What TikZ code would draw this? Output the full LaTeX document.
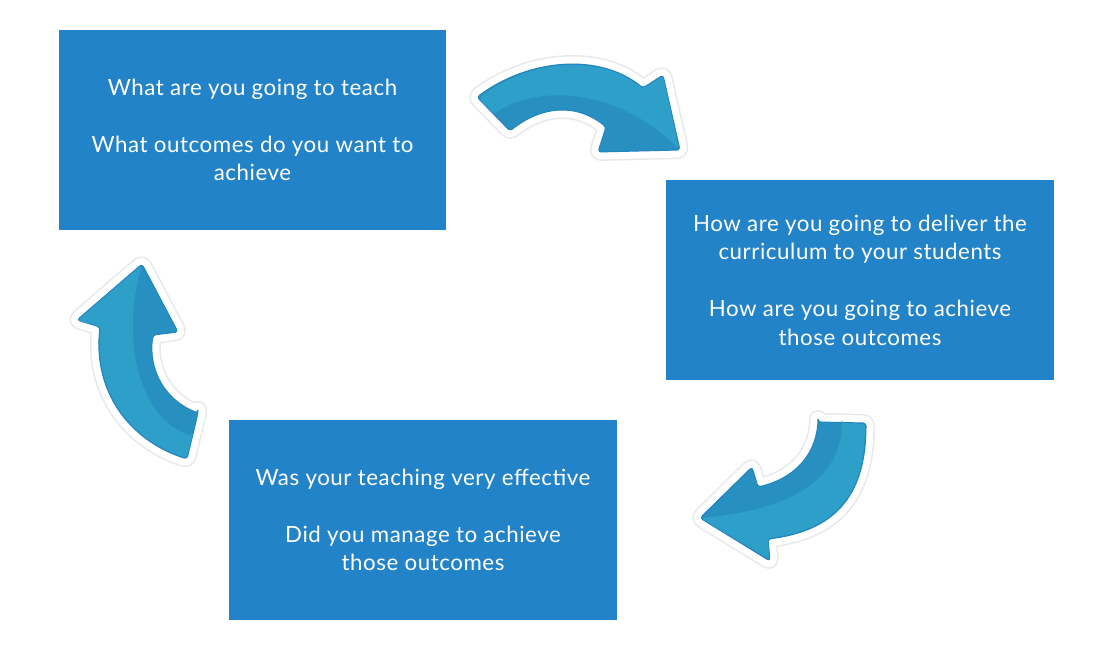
\documentclass[tikz,border=0pt]{standalone}
\usepackage{fontspec}
\setmainfont{Lato}[LetterSpace=2.5]
\definecolor{boxblue}{HTML}{2383C8}
\definecolor{arrlight}{HTML}{2E9FC8}
\definecolor{arrdark}{HTML}{2790C1}
\definecolor{arredge}{HTML}{2384BF}
\begin{document}
\begin{tikzpicture}[x=1pt,y=-1pt,
  stagebox/.style={rectangle, fill=boxblue, inner sep=0pt, text=white, align=center,
    font=\fontsize{22.3}{28.5}\selectfont},
  haloA/.style={draw=black!9, line width=18pt, line join=round, rounded corners=3pt},
  haloB/.style={draw=white, line width=15pt, line join=round, rounded corners=3pt},
  arrbody/.style={fill=arrdark, draw=arredge, line width=1pt, line join=round, rounded corners=3pt},
  arrlite/.style={fill=arrlight, rounded corners=3pt}
]
\useasboundingbox[fill=white] (0,0) rectangle (1105,654);

% stage boxes
\node[stagebox, minimum width=387pt, minimum height=200pt] (plan) at (252.5,130)
  {What are you going to teach\\[\baselineskip]What outcomes do you want to\\achieve};
\node[stagebox, minimum width=388pt, minimum height=200pt] (deliver) at (860,280)
  {How are you going to deliver the\\curriculum to your students\\[\baselineskip]How are you going to achieve\\those outcomes};
\node[stagebox, minimum width=388pt, minimum height=200pt] (review) at (423,520)
  {Was your teaching very effective\\[\baselineskip]Did you manage to achieve\\those outcomes};

% arrow 1 (top)
\def\arrowone{(477,97) .. controls (530,58) and (600,53) .. (643,88) -- (663,75) -- (680,150) -- (598,152) -- (606,127) .. controls (575,102) and (540,107) .. (510,131) -- cycle}
\path[haloA] \arrowone;
\path[haloB] \arrowone;
\path[arrbody] \arrowone;
\path[arrlite] (479,98) .. controls (530,59) and (600,54) .. (643,89) -- (663,76) -- (679,149) .. controls (610,82) and (530,88) .. (494,114) -- cycle;

% arrow 2 (right)
\def\arrowtwo{(818,422) -- (866,423) .. controls (866,490) and (840,530) .. (768,539) -- (770,561) -- (700,518) -- (752,467) -- (758,487) .. controls (795,478) and (815,455) .. (818,422) -- cycle}
\path[haloA] \arrowtwo;
\path[haloB] \arrowtwo;
\path[arrbody] \arrowtwo;
\path[arrlite] (842,423) -- (865,424) .. controls (865,490) and (839,529) .. (768,538) -- (769,559) -- (701,518) .. controls (790,510) and (840,480) .. (842,423) -- cycle;

% arrow 3 (left)
\def\arrowthree{(198,413) -- (187,459) .. controls (128,440) and (93,390) .. (100,327) -- (77,320) -- (142,264) -- (178,332) -- (153,335) .. controls (148,370) and (165,400) .. (198,413) -- cycle}
\path[haloA] \arrowthree;
\path[haloB] \arrowthree;
\path[arrbody] \arrowthree;
\path[arrlite] (192,436) -- (187,458) .. controls (129,439) and (94,390) .. (101,327) -- (78,320) -- (142,265) .. controls (120,340) and (140,420) .. (192,436) -- cycle;
\end{tikzpicture}
\end{document}
